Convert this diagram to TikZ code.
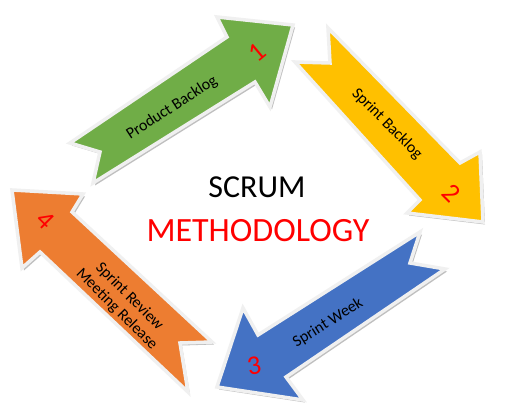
\documentclass[tikz,border=0pt]{standalone}
\usepackage{fontspec}
\setmainfont{Carlito}
\definecolor{agreen}{RGB}{112,173,71}
\definecolor{ayellow}{RGB}{255,192,0}
\definecolor{ablue}{RGB}{68,114,196}
\definecolor{aorange}{RGB}{237,125,49}
\definecolor{rimc}{RGB}{240,240,240}
\newcommand{\scrumarrow}[2]{%
  \fill[shadowshape, shift={(2,2.5)}] #2 -- cycle;
  \filldraw[arrowshape, fill=#1] #2 -- cycle;}
\begin{document}
\begin{tikzpicture}[x=1pt,y=-1pt,
  arrowshape/.style={draw=rimc, line width=3.5pt, line join=miter},
  shadowshape/.style={fill=black!55, opacity=0.45, draw=none},
  lbl/.style={font=\fontsize{16}{18}\selectfont, align=center, inner sep=0pt},
  num/.style={font=\fontsize{27}{27}\selectfont, text=red, inner sep=0pt}]
\path[use as bounding box, fill=white] (0,0) rectangle (507,419);
% arrows
\scrumarrow{aorange}{(12,190) -- (83,194) -- (72,212) -- (212,342) -- (180,343) -- (188,392) -- (40,252) -- (22,268)}
\scrumarrow{ablue}{(217,387) -- (243,308) -- (258,335) -- (420,232) -- (410,263) -- (445,269) -- (286,377) -- (303,400)}
\scrumarrow{ayellow}{(483,222) -- (480,152) -- (460,163) -- (328,28) -- (330,63) -- (295,62) -- (420,200) -- (407,213)}
\scrumarrow{agreen}{(293,25) -- (217,17) -- (227,37) -- (70,143) -- (100,152) -- (93,183) -- (255,82) -- (270,107)}
% labels
\node[lbl, rotate=33] (pb) at (172,108) {Product Backlog};
\node[lbl, rotate=-45] (sb) at (387,124) {Sprint Backlog};
\node[lbl, rotate=32] (sw) at (328,323) {Sprint Week};
\node[lbl, rotate=-45] (sr) at (123,303) {Sprint Review\\Meeting Release};
% numbers
\node[num, rotate=40] (n1) at (257,52) {1};
\node[num, rotate=-45] (n2) at (452,193) {2};
\node[num, rotate=10] (n3) at (254,366) {3};
\node[num, rotate=-45] (n4) at (45,220) {4};
% title
\node[font=\fontsize{32}{34}\selectfont, inner sep=0pt] (t1) at (257,187) {SCRUM};
\node[font=\fontsize{34}{36}\selectfont, text=red, inner sep=0pt] (t2) at (258,231) {METHODOLOGY};
\end{tikzpicture}
\end{document}
